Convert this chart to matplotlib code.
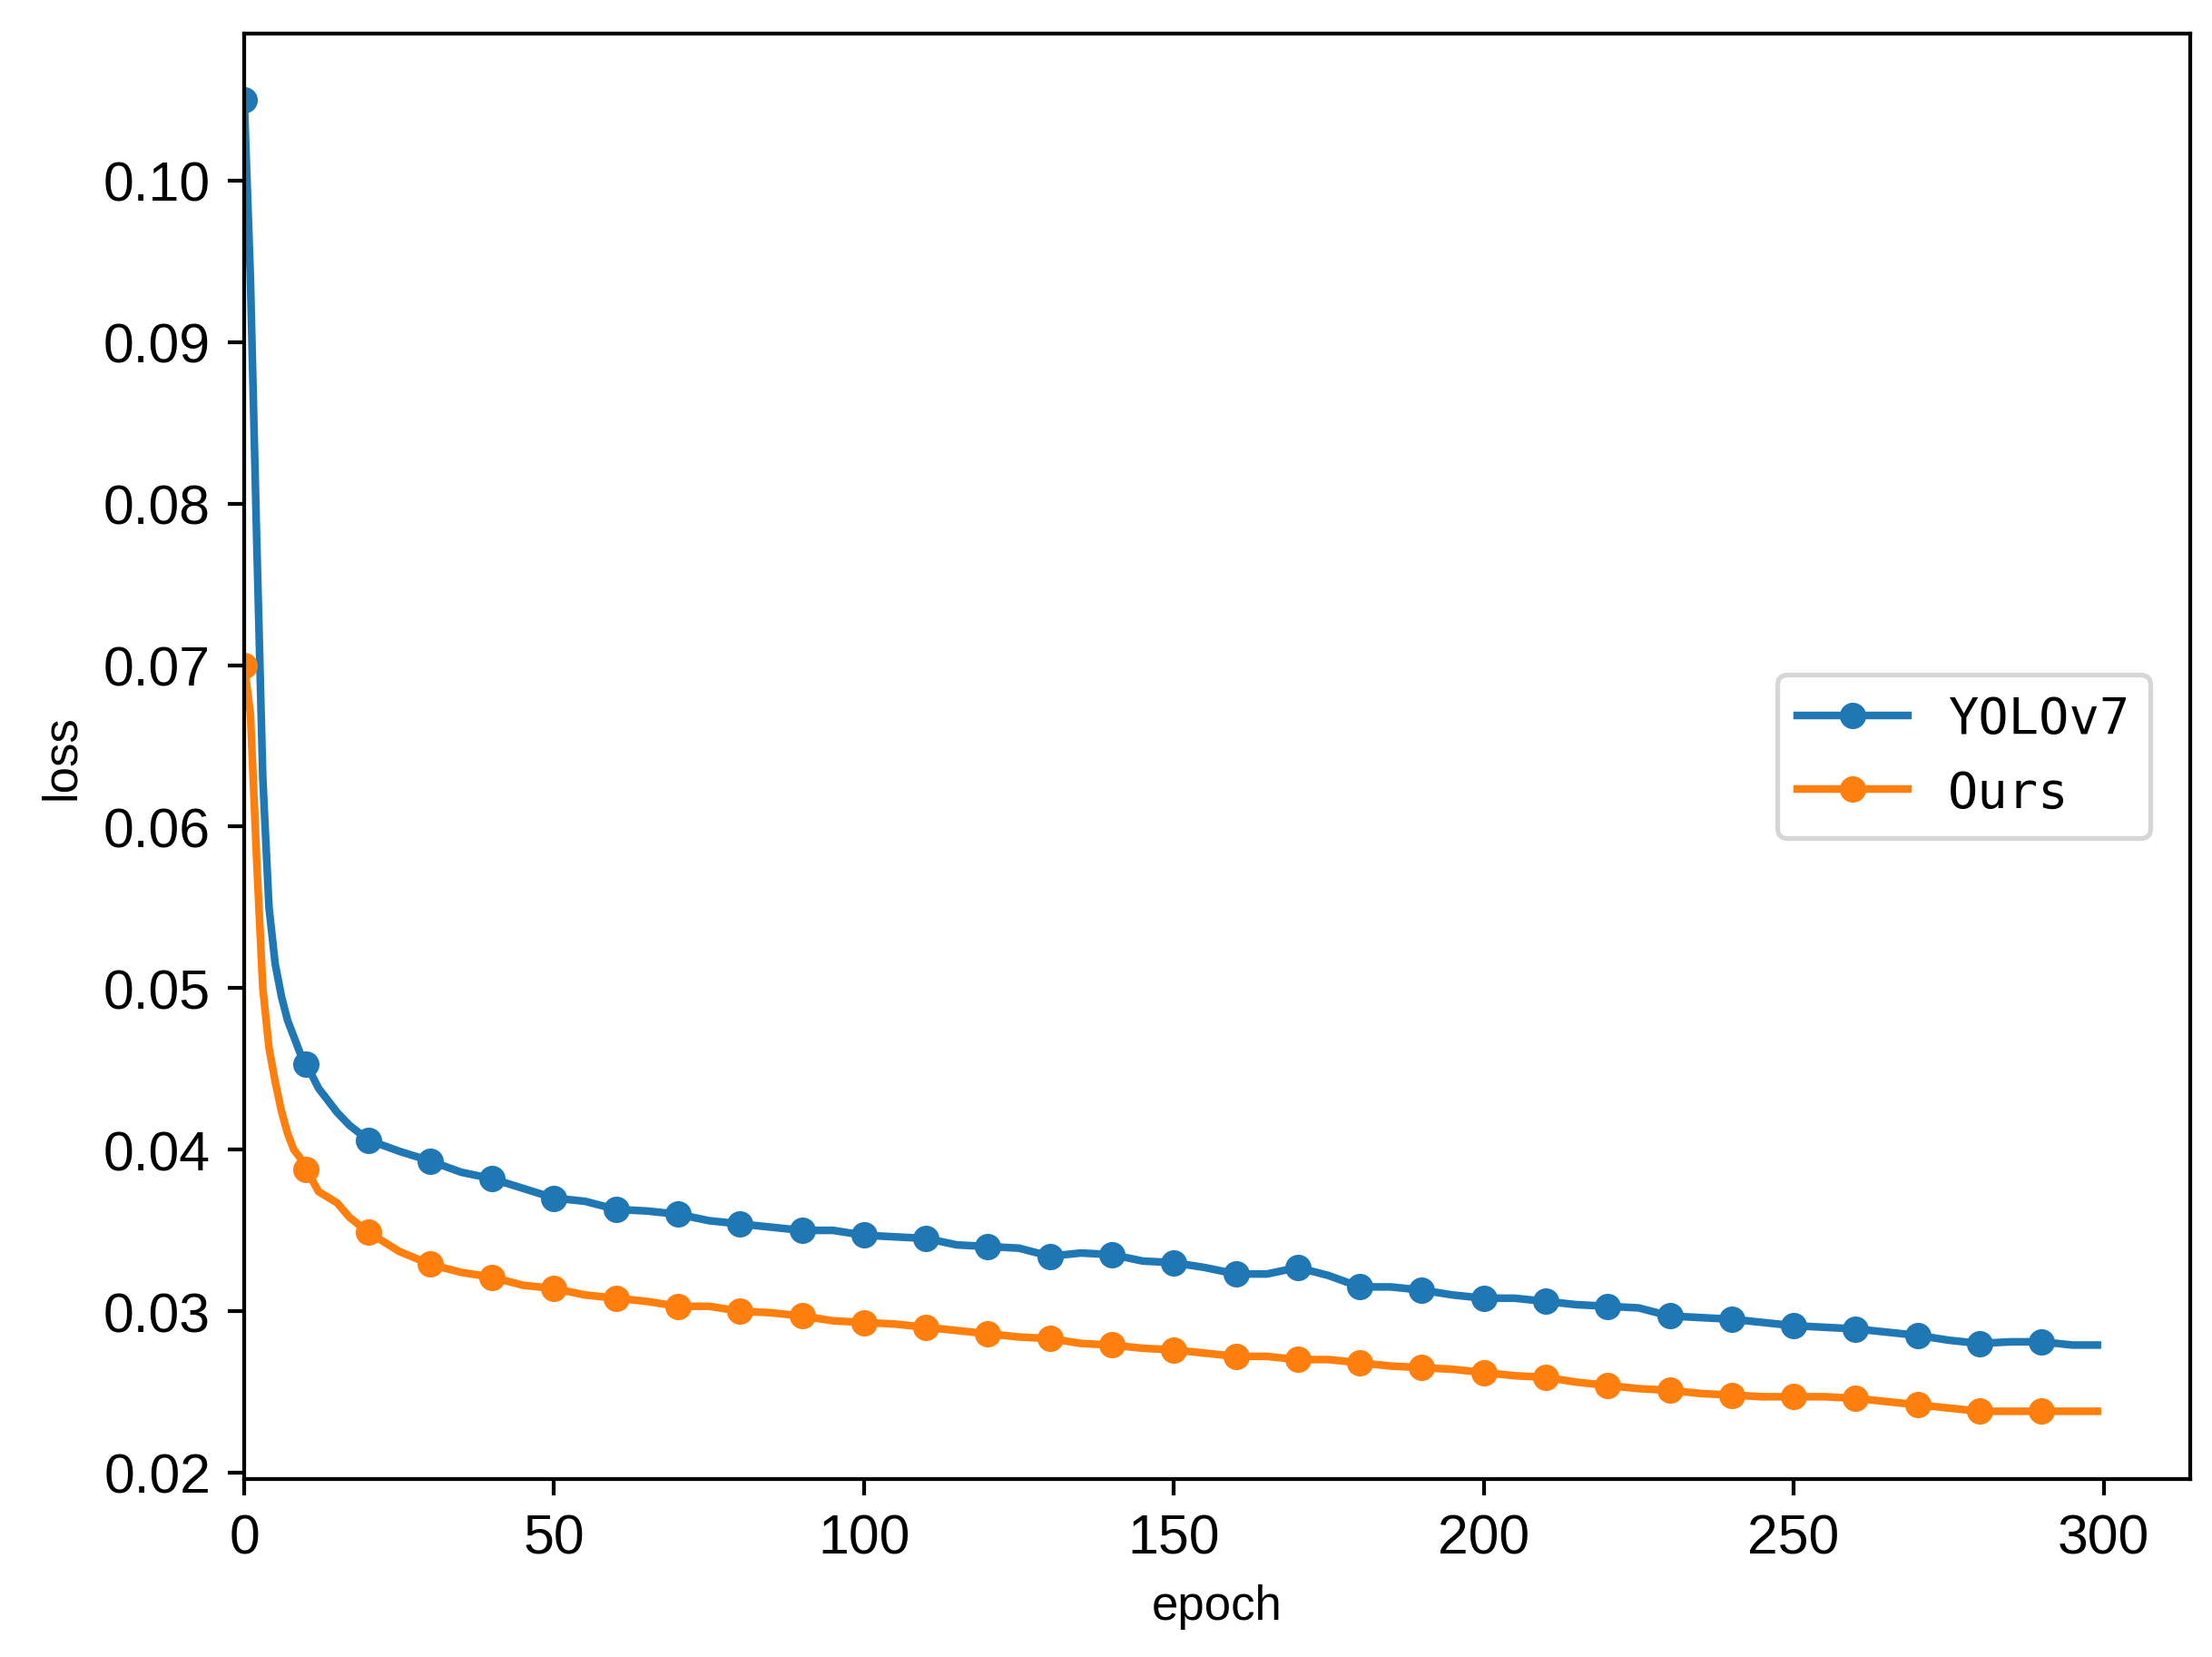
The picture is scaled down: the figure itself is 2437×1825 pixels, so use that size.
import numpy as np
import matplotlib
matplotlib.use("Agg")
import matplotlib.pyplot as plt

# loss curves (denser at the start where it drops fast)
epochs = [0, 1, 2, 3, 4, 5, 6, 7, 8, 9, 10, 12, 15, 17, 20, 25, 30, 35, 40, 45,
          50, 55, 60, 65, 70, 75, 80, 85, 90, 95, 100, 105, 110, 115, 120, 125,
          130, 135, 140, 145, 150, 155, 160, 165, 170, 175, 180, 185, 190, 195,
          200, 205, 210, 215, 220, 225, 230, 235, 240, 245, 250, 255, 260, 265,
          270, 275, 280, 285, 290, 295, 299]

yolov7 = [0.1050, 0.0940, 0.0780, 0.0630, 0.0550, 0.0515, 0.0495, 0.0480, 0.0470,
          0.0460, 0.0453, 0.0438, 0.0423, 0.0415, 0.0406, 0.0399, 0.0393, 0.0386,
          0.0382, 0.0376, 0.0370, 0.0368, 0.0363, 0.0362, 0.0360, 0.0356, 0.0354,
          0.0352, 0.0350, 0.0350, 0.0347, 0.0346, 0.0345, 0.0341, 0.0340, 0.0339,
          0.0334, 0.0336, 0.0335, 0.0331, 0.0330, 0.0327, 0.0323, 0.0323, 0.0327,
          0.0322, 0.0315, 0.0315, 0.0313, 0.0310, 0.0308, 0.0308, 0.0306, 0.0304,
          0.0303, 0.0302, 0.0297, 0.0296, 0.0295, 0.0293, 0.0291, 0.0290, 0.0289,
          0.0287, 0.0285, 0.0282, 0.0280, 0.0281, 0.0281, 0.0279, 0.0279]

ours = [0.0700, 0.0670, 0.0580, 0.0500, 0.0463, 0.0442, 0.0424, 0.0410, 0.0400,
        0.0395, 0.0388, 0.0374, 0.0367, 0.0358, 0.0349, 0.0337, 0.0329, 0.0324,
        0.0321, 0.0316, 0.0314, 0.0310, 0.0308, 0.0306, 0.0303, 0.0303, 0.0300,
        0.0299, 0.0297, 0.0294, 0.0293, 0.0292, 0.0290, 0.0288, 0.0286, 0.0284,
        0.0283, 0.0280, 0.0279, 0.0277, 0.0276, 0.0274, 0.0272, 0.0272, 0.0270,
        0.0270, 0.0268, 0.0266, 0.0265, 0.0264, 0.0262, 0.0260, 0.0259, 0.0256,
        0.0254, 0.0252, 0.0251, 0.0249, 0.0248, 0.0247, 0.0247, 0.0247, 0.0246,
        0.0244, 0.0242, 0.0240, 0.0238, 0.0238, 0.0238, 0.0238, 0.0238]

series_names = ["YOLOv7", "Ours"]

marks = [i for i, e in enumerate(epochs) if e % 10 == 0]

fig = plt.figure(figsize=(2437 / 380, 1826 / 380), dpi=380)
ax = fig.add_axes([0.1104, 0.1073, 0.8798, 0.8719])

for vals, name in zip([yolov7, ours], series_names):
    ax.plot(epochs, vals, marker="o", markersize=4.5, markevery=marks,
            linewidth=1.6, label=name)

ax.set_xlim(0, 314)
ax.set_ylim(0.0196, 0.1091)
ax.set_yticks([0.02, 0.03, 0.04, 0.05, 0.06, 0.07, 0.08, 0.09, 0.10])
ax.set_yticklabels([f"{t:.2f}" for t in ax.get_yticks()])
for lab in ax.get_xticklabels() + ax.get_yticklabels():
    lab.set_family("Liberation Sans")
    lab.set_fontsize(11.5)

ax.set_xlabel("epoch", family="Liberation Sans", fontsize=10)
ax.set_ylabel("loss", family="Liberation Sans", fontsize=10)

ax.legend(loc="center right", prop={"family": "DejaVu Sans Mono", "size": 10.5},
          borderaxespad=0.8, handlelength=2.2)

fig.savefig("out.png", dpi=380)
